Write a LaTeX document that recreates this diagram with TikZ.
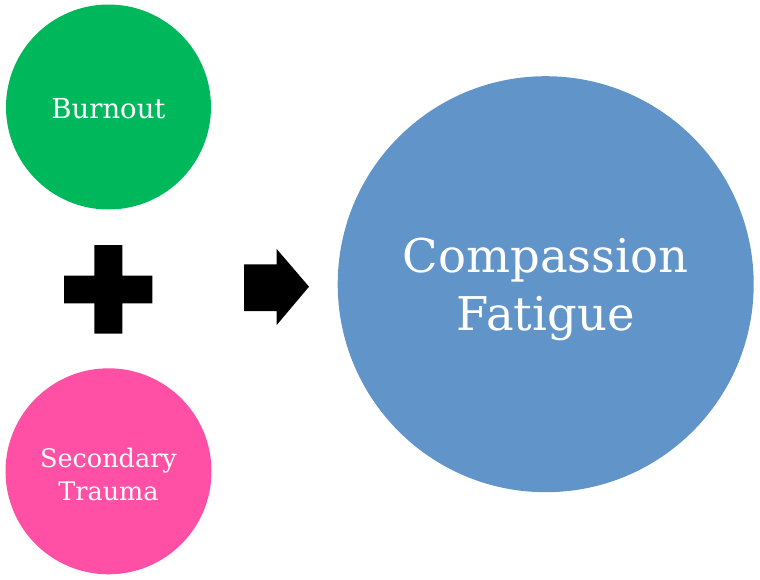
\documentclass[tikz,border=0pt]{standalone}
\usepackage{fontspec}
\setmainfont{DejaVu Serif}
\definecolor{cgreen}{RGB}{0,184,92}
\definecolor{cpink}{RGB}{255,80,165}
\definecolor{cblue}{RGB}{97,148,200}
\tikzset{
  bubble/.style={circle, inner sep=0pt, draw=none},
  lbl/.style={inner sep=0pt, text=white, align=center},
  symb/.style={fill=black, draw=none}
}
\begin{document}
\begin{tikzpicture}[x=1pt,y=-1pt]
\useasboundingbox (0,0) rectangle (760,579);
\node[bubble, fill=cgreen, minimum size=205pt] (burn) at (108.5,107) {};
\node[bubble, fill=cpink, minimum size=206pt] (sec) at (108.5,471.3) {};
\node[bubble, fill=cblue, minimum size=416pt] (cf) at (545.7,284.2) {};
\node[lbl, font=\fontsize{27.5}{33}\selectfont] (burnt) at (108.5,109) {Burnout};
\node[lbl, font=\fontsize{25.5}{33}\selectfont] (sect) at (108.5,474.5) {Secondary\\Trauma};
\node[lbl, font=\fontsize{46.5}{57.7}\selectfont] (cft) at (545.7,289.5) {Compassion\\Fatigue};
% plus sign
\fill[symb] (94.3,245) -- (122.3,245) -- (122.3,275.7) -- (152.3,275.7) -- (152.3,303.3)
  -- (122.3,303.3) -- (122.3,333.7) -- (94.3,333.7) -- (94.3,303.3) -- (64,303.3)
  -- (64,275.7) -- (94.3,275.7) -- cycle;
% arrow
\fill[symb] (244,264.3) -- (276.7,264.3) -- (276.7,249) -- (309,286.7) -- (276.7,325)
  -- (276.7,311) -- (244,311) -- cycle;
\end{tikzpicture}
\end{document}
